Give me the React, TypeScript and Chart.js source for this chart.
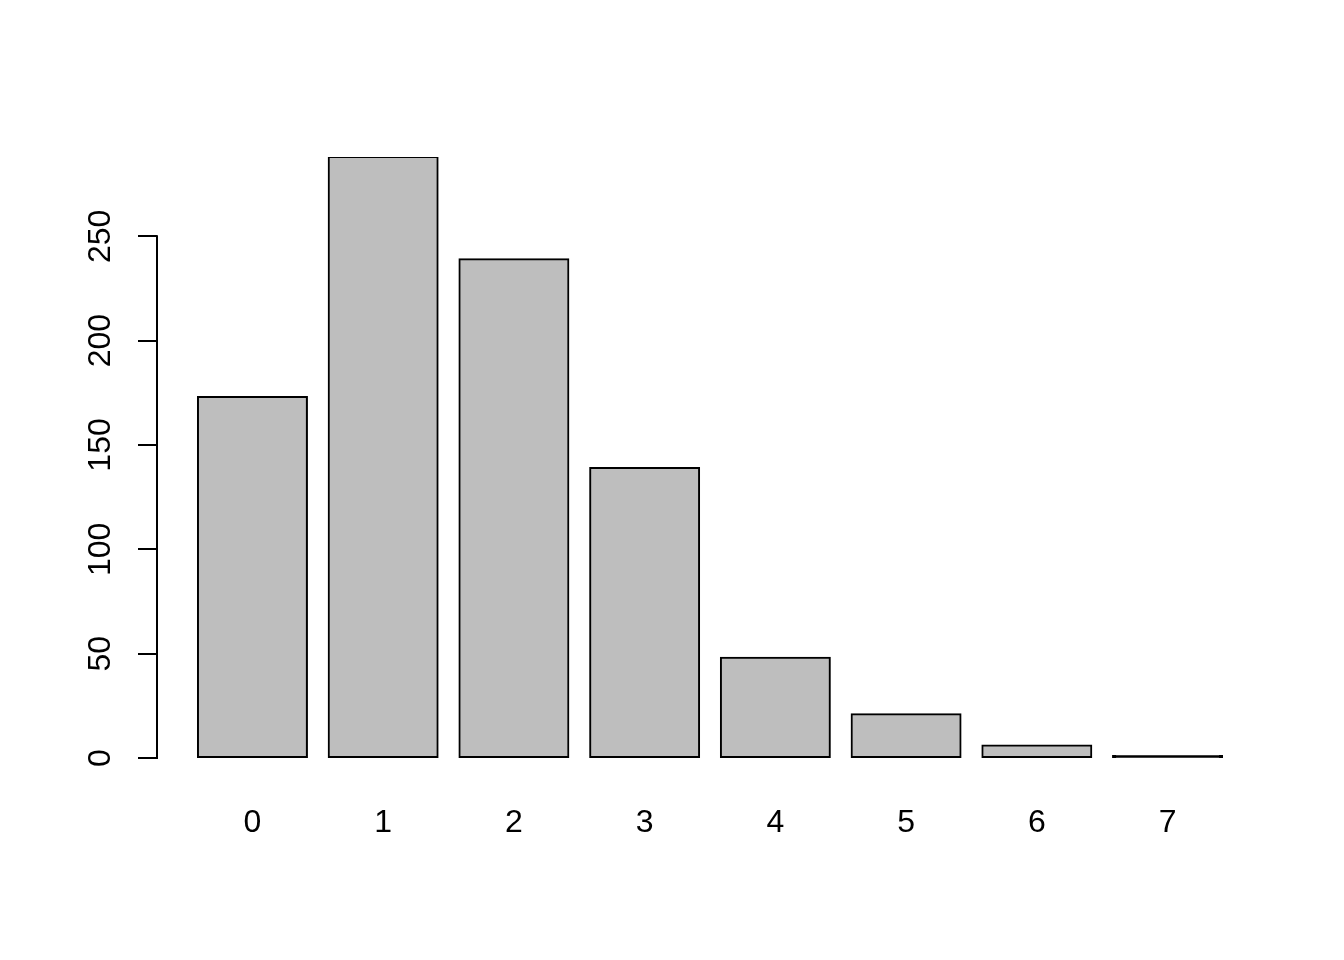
import React, { useEffect, useRef } from 'react';
import { Chart, registerables } from 'chart.js';

Chart.register(...registerables);

// counts per category
const categories = ['0', '1', '2', '3', '4', '5', '6', '7'];
const counts = [173, 288, 239, 139, 48, 21, 6, 1];
const yTicks = [0, 50, 100, 150, 200, 250];

// R barplot layout: bar width 1, space 0.2
const SPACE = 0.2;
const centers = categories.map((_, i) => SPACE + 0.5 + i * (1 + SPACE));
const xLo = SPACE;
const xHi = categories.length * (1 + SPACE);
const xPad = (xHi - xLo) * 0.04;
const yMax = Math.max(...counts);
const yMin = -0.01 * yMax;

const FONT = 'Liberation Sans, Arial, sans-serif';

// y axis line only between first and last tick, like R's axis()
const axisLine = {
  id: 'axisLine',
  afterDraw(chart: any) {
    const y = chart.scales.y;
    const ctx = chart.ctx;
    const x = chart.chartArea.left;
    ctx.save();
    ctx.strokeStyle = '#000';
    ctx.lineWidth = 2;
    ctx.beginPath();
    ctx.moveTo(x, y.getPixelForValue(yTicks[0]) + 1);
    ctx.lineTo(x, y.getPixelForValue(yTicks[yTicks.length - 1]) - 1);
    ctx.stroke();
    ctx.restore();
  },
};

// very short bars are all border in R, so fill them black too
const barFill = (c: any) => {
  const s = c.chart.scales.y;
  if (!s || !c.raw) return '#BEBEBE';
  const h = s.getPixelForValue(0) - s.getPixelForValue(c.raw.y);
  return h < 4 ? '#000000' : '#BEBEBE';
};

const BarPlot: React.FC = () => {
  const chartRef = useRef<HTMLCanvasElement>(null);
  const chartInstance = useRef<Chart | null>(null);

  useEffect(() => {
    if (chartInstance.current) {
      chartInstance.current.destroy();
    }
    if (!chartRef.current) return;
    const ctx = chartRef.current.getContext('2d');
    if (!ctx) return;

    // @ts-ignore
    chartInstance.current = new Chart(ctx, {
      type: 'bar',
      data: {
        datasets: [
          {
            data: counts.map((v, i) => ({ x: centers[i], y: v })),
            backgroundColor: barFill,
            borderColor: '#000000',
            borderWidth: 2,
            borderSkipped: false,
            inflateAmount: 1,
            barPercentage: 1 / (1 + SPACE),
            categoryPercentage: 1,
          },
        ],
      },
      options: {
        animation: false,
        responsive: false,
        devicePixelRatio: 1,
        layout: { padding: { top: 157, right: 81, left: 0, bottom: 0 } },
        plugins: { legend: { display: false }, tooltip: { enabled: false } },
        scales: {
          x: {
            type: 'linear',
            offset: false,
            min: xLo - xPad,
            max: xHi + xPad,
            grid: { display: false, offset: false },
            border: { display: false },
            afterBuildTicks: (scale: any) => {
              scale.ticks = centers.map((c) => ({ value: c }));
            },
            afterFit: (scale: any) => {
              scale.height = 196;
            },
            ticks: {
              color: '#000',
              font: { family: FONT, size: 32 },
              padding: 32,
              maxRotation: 0,
              autoSkip: false,
              callback: (_v: any, i: number) => categories[i],
            },
          },
          y: {
            min: yMin,
            max: yMax,
            afterBuildTicks: (scale: any) => {
              scale.ticks = yTicks.map((v) => ({ value: v }));
            },
            afterFit: (scale: any) => {
              scale.width = 157;
            },
            border: { display: false },
            grid: {
              drawOnChartArea: false,
              drawTicks: true,
              tickLength: 19,
              color: '#000',
              lineWidth: 2,
            },
            ticks: {
              color: '#000',
              font: { family: FONT, size: 32 },
              minRotation: 90,
              maxRotation: 90,
              crossAlign: 'center',
              padding: 10,
              autoSkip: false,
            },
          },
        },
      },
      plugins: [axisLine],
    });

    return () => {
      if (chartInstance.current) {
        chartInstance.current.destroy();
        chartInstance.current = null;
      }
    };
  }, []);

  return <canvas ref={chartRef} width={1344} height={960}></canvas>;
};

export default function App() {
  return (
    <div style={{ position: 'absolute', left: 0, top: 0, width: 1344, height: 960, background: '#fff' }}>
      <BarPlot />
    </div>
  );
}
